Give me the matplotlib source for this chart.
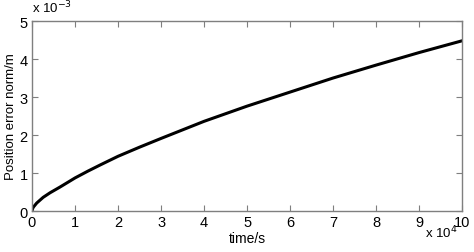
import numpy as np
import matplotlib
matplotlib.use("Agg")
import matplotlib.pyplot as plt
from matplotlib.ticker import FuncFormatter

# values (time in s, error in m)
time_s = np.array([0, 0.01, 0.03, 0.11, 0.26, 0.42, 0.65, 0.84, 1.0, 1.3, 1.6, 2.0,
                   2.5, 3, 4, 5, 6, 7, 8, 9, 10]) * 1e4
err_m = np.array([0, 0.05, 0.10, 0.21, 0.36, 0.48, 0.63, 0.76, 0.87, 1.05, 1.22, 1.44,
                  1.68, 1.91, 2.36, 2.76, 3.13, 3.50, 3.84, 4.17, 4.48]) * 1e-3

x_ticks = np.arange(0, 11) * 1e4
y_ticks = np.arange(0, 6) * 1e-3

plt.rcParams["font.family"] = ["Liberation Sans", "DejaVu Sans"]
GREY = "#7f7f7f"

fig = plt.figure(figsize=(4.74, 2.53), dpi=100, facecolor="white")
ax = fig.add_axes([0.0675, 0.162, 0.9075, 0.751])

ax.plot(time_s, err_m, color="black", linewidth=2.2, solid_capstyle="round",
        solid_joinstyle="round")

ax.set_xlim(0, 1e5)
ax.set_ylim(0, 5e-3)
ax.set_xticks(x_ticks)
ax.set_yticks(y_ticks)
ax.xaxis.set_major_formatter(FuncFormatter(lambda v, p: f"{v/1e4:g}"))
ax.yaxis.set_major_formatter(FuncFormatter(lambda v, p: f"{v/1e-3:g}"))
ax.tick_params(direction="in", length=4, width=0.8, color=GREY,
               labelsize=10.5, top=True, right=True, pad=3)
for s in ax.spines.values():
    s.set_color(GREY)
    s.set_linewidth(1.0)

ax.set_xlabel("time/s", fontsize=10, labelpad=1)
ax.set_ylabel("Position error norm/m", fontsize=9.5, labelpad=2)

fig.text(0.0675, 0.935, r"x 10$^{-3}$", fontsize=9.5, ha="left", va="bottom")
fig.text(0.965, 0.045, r"x 10$^{4}$", fontsize=9.5, ha="right", va="bottom")

fig.savefig("out.png", dpi=100, facecolor="white")
